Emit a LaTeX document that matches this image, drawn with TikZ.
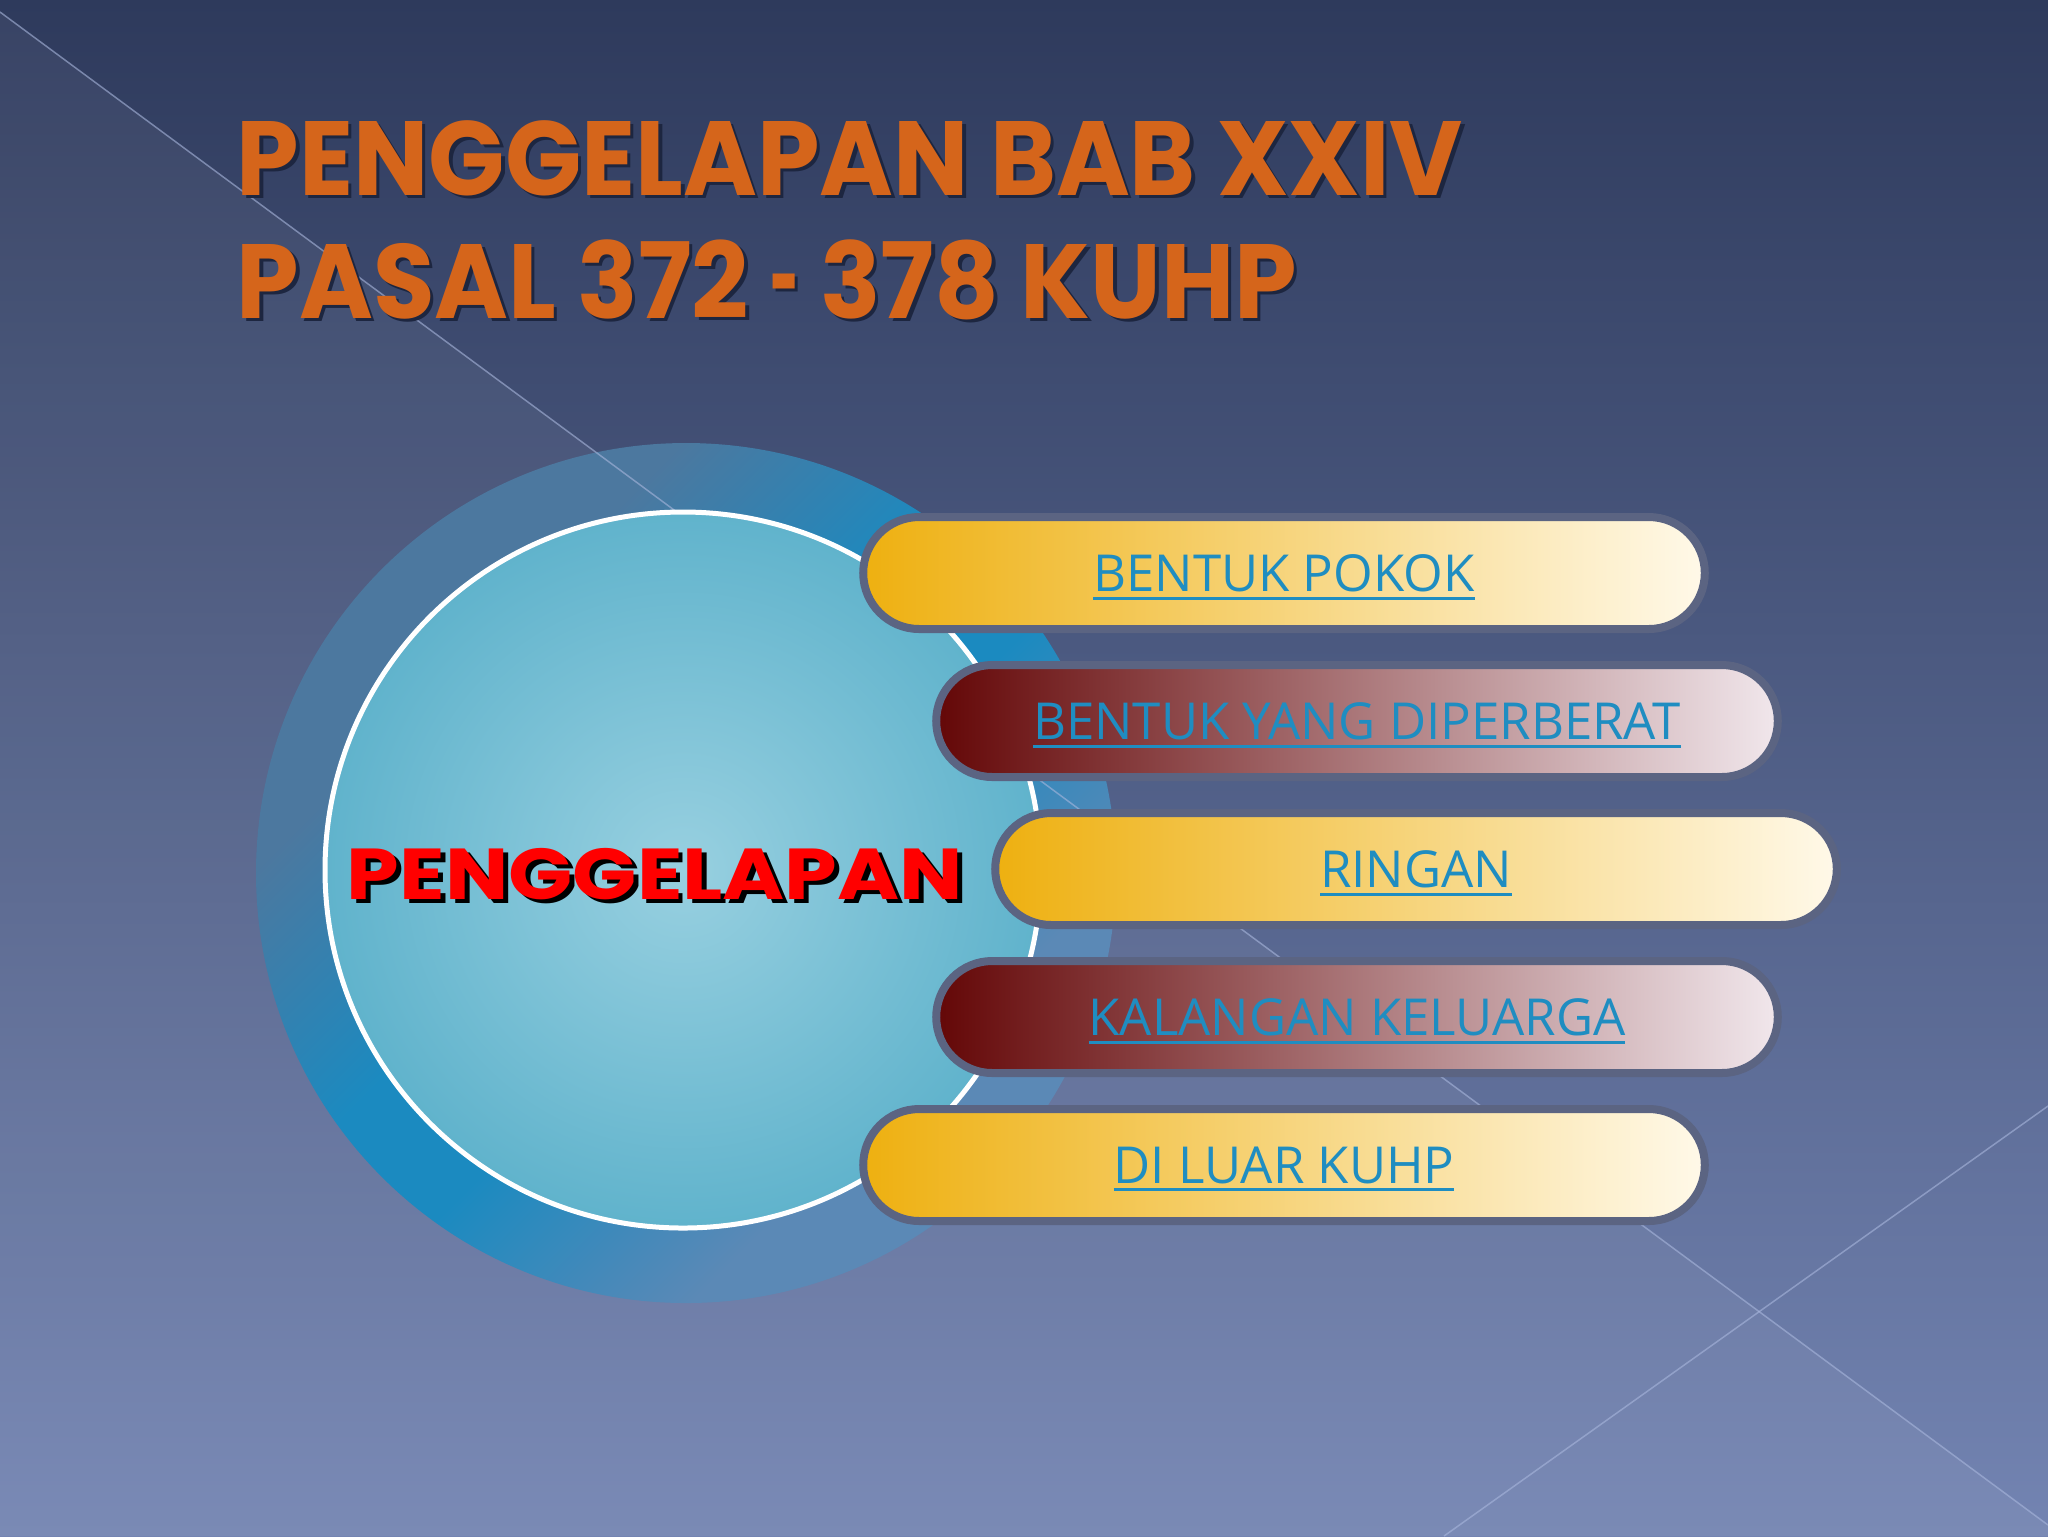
\documentclass[tikz,border=0pt]{standalone}
\usepackage{fontspec}
\usetikzlibrary{shapes.misc,positioning}
\newfontfamily\pillfont{Open Sans}
\newfontfamily\headfont{Poppins}[FakeStretch=0.95]
\newfontfamily\corefont{Poppins}[FakeStretch=1.17]
\definecolor{bgtop}{HTML}{2E3A5C}
\definecolor{bgbot}{HTML}{7384B2}
\definecolor{ringa}{HTML}{4C789F}
\definecolor{ringb}{HTML}{1B8AC0}
\definecolor{ringc}{HTML}{5B89B6}
\definecolor{corein}{HTML}{98D0E0}
\definecolor{coreout}{HTML}{60B3CC}
\definecolor{gold}{HTML}{EEB010}
\definecolor{goldmid}{HTML}{F6D57A}
\definecolor{cream}{HTML}{FFF9E9}
\definecolor{maroon}{HTML}{640707}
\definecolor{maroonmid}{HTML}{AC7272}
\definecolor{blush}{HTML}{F1E7EC}
\definecolor{pillrim}{HTML}{5B6482}
\definecolor{linkblue}{HTML}{1F8DC1}
\definecolor{titleorange}{HTML}{D5651B}
\definecolor{titleshade}{HTML}{1D2640}
\definecolor{streak}{HTML}{A8B6DC}
\pgfdeclareverticalshading{ringfade}{100bp}{color(0bp)=(ringc); color(32bp)=(ringc); color(46bp)=(ringb); color(54bp)=(ringb); color(68bp)=(ringa); color(100bp)=(ringa)}
\newsavebox{\lnkbox}
\newcommand{\lnk}[1]{\sbox{\lnkbox}{#1}\rlap{\smash{\rule[-2.4pt]{\wd\lnkbox}{0.85pt}}}\usebox{\lnkbox}}
\newcommand{\shd}[3]{\rlap{\kern#3\raisebox{-#3}{\textcolor{#2}{#1}}}#1}
\newcommand{\hy}{\scalebox{0.5}[1]{-}}
\tikzset{
  pill/.style={rounded rectangle,draw=pillrim,line width=0.8mm,minimum width=86.5mm,minimum height=11.2mm,text=linkblue,font=\pillfont\fontsize{14.5}{17}\selectfont},
  pilly/.style={pill,left color=gold,middle color=goldmid,right color=cream},
  pillr/.style={pill,left color=maroon,middle color=maroonmid,right color=blush},
  headtxt/.style={inner sep=0pt,text=titleorange,font=\headfont\bfseries\fontsize{30}{36}\selectfont},
  coretxt/.style={inner sep=0pt,text=red,font=\corefont\bfseries\fontsize{20.5}{24}\selectfont}
}

\begin{document}
\begin{tikzpicture}[x=0.1mm,y=-0.1mm,node distance=2.8mm]
  \useasboundingbox (0,0) rectangle (2048,1536);
  \fill[top color=bgtop,bottom color=bgbot] (0,0) rectangle (2048,1536);
  \fill[white,opacity=0.05] (0,12) -- (2048,1525) -- (2048,1536) -- (0,1536) -- cycle;
  \node[circle,inner sep=0pt,outer sep=0pt,minimum size=86mm,shading=ringfade,shading angle=45] (ring) at (686,873) {};
  \draw[streak,opacity=0.6,line width=0.15mm] (0,12) -- (2048,1525);
  \draw[streak,opacity=0.6,line width=0.15mm] (1444,1536) -- (2048,1106);
  \node[circle,inner sep=0pt,minimum size=71.6mm,draw=white,line width=0.5mm,inner color=corein,outer color=coreout] (core) at (683,870) {};
  \node[coretxt,anchor=base] (corelbl) at (655,899) {\shd{PENGGELAPAN}{black}{1.4pt}};
  \node[headtxt,anchor=base west] (head1) at (236,195) {\shd{PENGGELAPAN BAB XXIV}{titleshade}{1pt}};
  \node[headtxt,anchor=base west] (head2) at (236,318) {\shd{PASAL 372 \hy{} 378 KUHP}{titleshade}{1pt}};
  \node[pilly] (pokok) at (1284,573) {\lnk{BENTUK POKOK}};
  \node[pillr,below=of pokok,xshift=7.3mm] (berat) {\lnk{BENTUK YANG DIPERBERAT}};
  \node[pilly,below=of berat,xshift=5.9mm] (ringan) {\lnk{RINGAN}};
  \node[pillr,below=of ringan,xshift=-5.9mm] (keluarga) {\lnk{KALANGAN KELUARGA}};
  \node[pilly,below=of keluarga,xshift=-7.3mm] (luar) {\lnk{DI LUAR KUHP}};
\end{tikzpicture}
\end{document}
